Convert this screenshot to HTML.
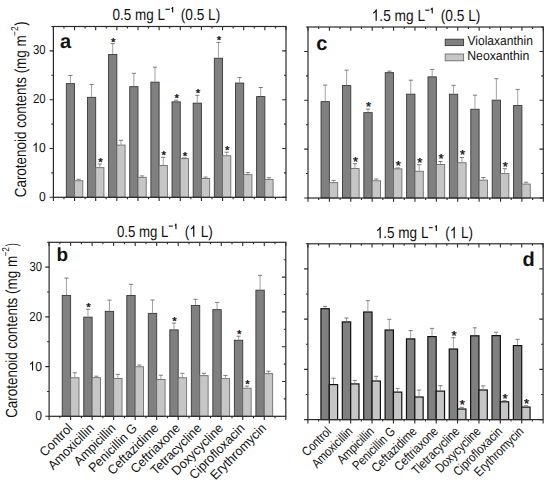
<!DOCTYPE html>
<html><head><meta charset="utf-8"><style>
html,body{margin:0;padding:0;background:#fff;}
svg{display:block;font-family:"Liberation Sans", sans-serif;text-rendering:geometricPrecision;}
text{fill:#111;}
</style></head><body>
<svg width="550" height="484" viewBox="0 0 550 484" shape-rendering="auto">
<rect x="66.3" y="83.65" width="8.25" height="113.65" fill="#808080" stroke="#383838" stroke-width="0.9"/>
<rect x="74.55" y="180.75" width="8.25" height="16.55" fill="#c6c6c6" stroke="#6e6e6e" stroke-width="0.9"/>
<rect x="87.44" y="97.35" width="8.25" height="99.95" fill="#808080" stroke="#383838" stroke-width="0.9"/>
<rect x="95.69" y="167.65" width="8.25" height="29.65" fill="#c6c6c6" stroke="#6e6e6e" stroke-width="0.9"/>
<rect x="108.59" y="54.45" width="8.25" height="142.85" fill="#808080" stroke="#383838" stroke-width="0.9"/>
<rect x="116.84" y="145.05" width="8.25" height="52.25" fill="#c6c6c6" stroke="#6e6e6e" stroke-width="0.9"/>
<rect x="129.74" y="86.65" width="8.25" height="110.65" fill="#808080" stroke="#383838" stroke-width="0.9"/>
<rect x="137.98" y="177.35" width="8.25" height="19.95" fill="#c6c6c6" stroke="#6e6e6e" stroke-width="0.9"/>
<rect x="150.88" y="82.15" width="8.25" height="115.15" fill="#808080" stroke="#383838" stroke-width="0.9"/>
<rect x="159.13" y="165.45" width="8.25" height="31.85" fill="#c6c6c6" stroke="#6e6e6e" stroke-width="0.9"/>
<rect x="172.03" y="101.85" width="8.25" height="95.45" fill="#808080" stroke="#383838" stroke-width="0.9"/>
<rect x="180.27" y="158.65" width="8.25" height="38.65" fill="#c6c6c6" stroke="#6e6e6e" stroke-width="0.9"/>
<rect x="193.17" y="103.15" width="8.25" height="94.15" fill="#808080" stroke="#383838" stroke-width="0.9"/>
<rect x="201.42" y="178.55" width="8.25" height="18.75" fill="#c6c6c6" stroke="#6e6e6e" stroke-width="0.9"/>
<rect x="214.32" y="58.25" width="8.25" height="139.05" fill="#808080" stroke="#383838" stroke-width="0.9"/>
<rect x="222.56" y="155.75" width="8.25" height="41.55" fill="#c6c6c6" stroke="#6e6e6e" stroke-width="0.9"/>
<rect x="235.46" y="83.05" width="8.25" height="114.25" fill="#808080" stroke="#383838" stroke-width="0.9"/>
<rect x="243.71" y="174.65" width="8.25" height="22.65" fill="#c6c6c6" stroke="#6e6e6e" stroke-width="0.9"/>
<rect x="256.61" y="96.55" width="8.25" height="100.75" fill="#808080" stroke="#383838" stroke-width="0.9"/>
<rect x="264.85" y="179.55" width="8.25" height="17.75" fill="#c6c6c6" stroke="#6e6e6e" stroke-width="0.9"/>
<path d="M70.42 83.2V75.5" stroke="#8a8a8a" stroke-width="0.8" fill="none"/>
<path d="M68.32 75.5H72.52" stroke="#707070" stroke-width="0.9" fill="none"/>
<path d="M78.67 180.3V179.3" stroke="#8a8a8a" stroke-width="0.8" fill="none"/>
<path d="M76.57 179.3H80.77" stroke="#707070" stroke-width="0.9" fill="none"/>
<path d="M91.57 96.9V84.5" stroke="#8a8a8a" stroke-width="0.8" fill="none"/>
<path d="M89.47 84.5H93.67" stroke="#707070" stroke-width="0.9" fill="none"/>
<path d="M99.81 167.2V164" stroke="#8a8a8a" stroke-width="0.8" fill="none"/>
<path d="M97.71 164H101.91" stroke="#707070" stroke-width="0.9" fill="none"/>
<text x="100.41" y="165.9" font-size="11.5" text-anchor="middle" fill="#111" stroke="#111" stroke-width="0.35">*</text>
<path d="M112.71 54V43.6" stroke="#8a8a8a" stroke-width="0.8" fill="none"/>
<path d="M110.61 43.6H114.81" stroke="#707070" stroke-width="0.9" fill="none"/>
<text x="113.31" y="45.5" font-size="11.5" text-anchor="middle" fill="#111" stroke="#111" stroke-width="0.35">*</text>
<path d="M120.96 144.6V140.3" stroke="#8a8a8a" stroke-width="0.8" fill="none"/>
<path d="M118.86 140.3H123.06" stroke="#707070" stroke-width="0.9" fill="none"/>
<path d="M133.86 86.2V73.3" stroke="#8a8a8a" stroke-width="0.8" fill="none"/>
<path d="M131.76 73.3H135.96" stroke="#707070" stroke-width="0.9" fill="none"/>
<path d="M142.11 176.9V175.9" stroke="#8a8a8a" stroke-width="0.8" fill="none"/>
<path d="M140.01 175.9H144.21" stroke="#707070" stroke-width="0.9" fill="none"/>
<path d="M155 81.7V67.2" stroke="#8a8a8a" stroke-width="0.8" fill="none"/>
<path d="M152.9 67.2H157.1" stroke="#707070" stroke-width="0.9" fill="none"/>
<path d="M163.25 165V157.3" stroke="#8a8a8a" stroke-width="0.8" fill="none"/>
<path d="M161.15 157.3H165.35" stroke="#707070" stroke-width="0.9" fill="none"/>
<text x="163.85" y="159.2" font-size="11.5" text-anchor="middle" fill="#111" stroke="#111" stroke-width="0.35">*</text>
<path d="M176.15 101.4V100.2" stroke="#8a8a8a" stroke-width="0.8" fill="none"/>
<path d="M174.05 100.2H178.25" stroke="#707070" stroke-width="0.9" fill="none"/>
<text x="176.75" y="102.1" font-size="11.5" text-anchor="middle" fill="#111" stroke="#111" stroke-width="0.35">*</text>
<path d="M182.3 157.9H186.5" stroke="#707070" stroke-width="0.9" fill="none"/>
<text x="185" y="159.8" font-size="11.5" text-anchor="middle" fill="#111" stroke="#111" stroke-width="0.35">*</text>
<path d="M197.29 102.7V95.3" stroke="#8a8a8a" stroke-width="0.8" fill="none"/>
<path d="M195.19 95.3H199.39" stroke="#707070" stroke-width="0.9" fill="none"/>
<text x="197.89" y="97.2" font-size="11.5" text-anchor="middle" fill="#111" stroke="#111" stroke-width="0.35">*</text>
<path d="M205.54 178.1V177.1" stroke="#8a8a8a" stroke-width="0.8" fill="none"/>
<path d="M203.44 177.1H207.64" stroke="#707070" stroke-width="0.9" fill="none"/>
<path d="M218.44 57.8V42.4" stroke="#8a8a8a" stroke-width="0.8" fill="none"/>
<path d="M216.34 42.4H220.54" stroke="#707070" stroke-width="0.9" fill="none"/>
<text x="219.04" y="44.3" font-size="11.5" text-anchor="middle" fill="#111" stroke="#111" stroke-width="0.35">*</text>
<path d="M226.69 155.3V152.2" stroke="#8a8a8a" stroke-width="0.8" fill="none"/>
<path d="M224.59 152.2H228.79" stroke="#707070" stroke-width="0.9" fill="none"/>
<text x="227.29" y="154.1" font-size="11.5" text-anchor="middle" fill="#111" stroke="#111" stroke-width="0.35">*</text>
<path d="M239.59 82.6V77.6" stroke="#8a8a8a" stroke-width="0.8" fill="none"/>
<path d="M237.49 77.6H241.69" stroke="#707070" stroke-width="0.9" fill="none"/>
<path d="M247.83 174.2V172.6" stroke="#8a8a8a" stroke-width="0.8" fill="none"/>
<path d="M245.73 172.6H249.93" stroke="#707070" stroke-width="0.9" fill="none"/>
<path d="M260.73 96.1V87.5" stroke="#8a8a8a" stroke-width="0.8" fill="none"/>
<path d="M258.63 87.5H262.83" stroke="#707070" stroke-width="0.9" fill="none"/>
<path d="M268.98 179.1V177.7" stroke="#8a8a8a" stroke-width="0.8" fill="none"/>
<path d="M266.88 177.7H271.08" stroke="#707070" stroke-width="0.9" fill="none"/>
<rect x="53.4" y="26.5" width="232.6" height="170.8" fill="none" stroke="#2a2a2a" stroke-width="1.2"/>
<path d="M53.4 197.3v3.8M53.4 26.5v3.8M63.97 197.3v2M63.97 26.5v2M74.55 197.3v3.8M74.55 26.5v3.8M85.12 197.3v2M85.12 26.5v2M95.69 197.3v3.8M95.69 26.5v3.8M106.26 197.3v2M106.26 26.5v2M116.84 197.3v3.8M116.84 26.5v3.8M127.41 197.3v2M127.41 26.5v2M137.98 197.3v3.8M137.98 26.5v3.8M148.55 197.3v2M148.55 26.5v2M159.13 197.3v3.8M159.13 26.5v3.8M169.7 197.3v2M169.7 26.5v2M180.27 197.3v3.8M180.27 26.5v3.8M190.85 197.3v2M190.85 26.5v2M201.42 197.3v3.8M201.42 26.5v3.8M211.99 197.3v2M211.99 26.5v2M222.56 197.3v3.8M222.56 26.5v3.8M233.14 197.3v2M233.14 26.5v2M243.71 197.3v3.8M243.71 26.5v3.8M254.28 197.3v2M254.28 26.5v2M264.85 197.3v3.8M264.85 26.5v3.8M275.43 197.3v2M275.43 26.5v2M286 197.3v3.8M286 26.5v3.8M53.4 197.3h-3.8M286 197.3h-3.8M53.4 172.9h-2M286 172.9h-2M53.4 148.5h-3.8M286 148.5h-3.8M53.4 124.1h-2M286 124.1h-2M53.4 99.7h-3.8M286 99.7h-3.8M53.4 75.3h-2M286 75.3h-2M53.4 50.9h-3.8M286 50.9h-3.8M53.4 26.5h-2M286 26.5h-2" stroke="#2a2a2a" stroke-width="1.1" fill="none"/>
<text x="38.93" y="200.7" font-size="13" textLength="6.75" lengthAdjust="spacingAndGlyphs">0</text>
<text x="32.18" y="151.9" font-size="13" textLength="13.5" lengthAdjust="spacingAndGlyphs"> 0</text><polygon points="35.58,151.9 36.7,151.9 36.7,142.59 35.98,142.59 35.64,143.22 35.09,143.84 34.3,144.54 33.5,145.04 33.5,146.15 34.18,145.84 34.91,145.37 35.58,144.81" fill="#111"/>
<text x="32.92" y="103.1" font-size="13" textLength="12.72" lengthAdjust="spacingAndGlyphs">20</text>
<text x="33.07" y="54.3" font-size="13" textLength="12.57" lengthAdjust="spacingAndGlyphs">30</text>
<rect x="321.05" y="101.65" width="8.34" height="96.35" fill="#808080" stroke="#383838" stroke-width="0.9"/>
<rect x="329.39" y="182.65" width="8.34" height="15.35" fill="#c6c6c6" stroke="#6e6e6e" stroke-width="0.9"/>
<rect x="342.44" y="85.55" width="8.34" height="112.45" fill="#808080" stroke="#383838" stroke-width="0.9"/>
<rect x="350.78" y="168.55" width="8.34" height="29.45" fill="#c6c6c6" stroke="#6e6e6e" stroke-width="0.9"/>
<rect x="363.83" y="112.65" width="8.34" height="85.35" fill="#808080" stroke="#383838" stroke-width="0.9"/>
<rect x="372.17" y="180.75" width="8.34" height="17.25" fill="#c6c6c6" stroke="#6e6e6e" stroke-width="0.9"/>
<rect x="385.22" y="72.65" width="8.34" height="125.35" fill="#808080" stroke="#383838" stroke-width="0.9"/>
<rect x="393.56" y="168.85" width="8.34" height="29.15" fill="#c6c6c6" stroke="#6e6e6e" stroke-width="0.9"/>
<rect x="406.61" y="94.15" width="8.34" height="103.85" fill="#808080" stroke="#383838" stroke-width="0.9"/>
<rect x="414.95" y="171.25" width="8.34" height="26.75" fill="#c6c6c6" stroke="#6e6e6e" stroke-width="0.9"/>
<rect x="428" y="76.85" width="8.34" height="121.15" fill="#808080" stroke="#383838" stroke-width="0.9"/>
<rect x="436.35" y="164.45" width="8.34" height="33.55" fill="#c6c6c6" stroke="#6e6e6e" stroke-width="0.9"/>
<rect x="449.39" y="94.25" width="8.34" height="103.75" fill="#808080" stroke="#383838" stroke-width="0.9"/>
<rect x="457.74" y="162.75" width="8.34" height="35.25" fill="#c6c6c6" stroke="#6e6e6e" stroke-width="0.9"/>
<rect x="470.78" y="109.25" width="8.34" height="88.75" fill="#808080" stroke="#383838" stroke-width="0.9"/>
<rect x="479.13" y="180.15" width="8.34" height="17.85" fill="#c6c6c6" stroke="#6e6e6e" stroke-width="0.9"/>
<rect x="492.18" y="100.15" width="8.34" height="97.85" fill="#808080" stroke="#383838" stroke-width="0.9"/>
<rect x="500.52" y="173.65" width="8.34" height="24.35" fill="#c6c6c6" stroke="#6e6e6e" stroke-width="0.9"/>
<rect x="513.57" y="105.55" width="8.34" height="92.45" fill="#808080" stroke="#383838" stroke-width="0.9"/>
<rect x="521.91" y="184.05" width="8.34" height="13.95" fill="#c6c6c6" stroke="#6e6e6e" stroke-width="0.9"/>
<path d="M325.22 101.2V85.1" stroke="#8a8a8a" stroke-width="0.8" fill="none"/>
<path d="M323.12 85.1H327.32" stroke="#707070" stroke-width="0.9" fill="none"/>
<path d="M333.56 182.2V180.4" stroke="#8a8a8a" stroke-width="0.8" fill="none"/>
<path d="M331.46 180.4H335.66" stroke="#707070" stroke-width="0.9" fill="none"/>
<path d="M346.61 85.1V70.2" stroke="#8a8a8a" stroke-width="0.8" fill="none"/>
<path d="M344.51 70.2H348.71" stroke="#707070" stroke-width="0.9" fill="none"/>
<path d="M354.95 168.1V163.7" stroke="#8a8a8a" stroke-width="0.8" fill="none"/>
<path d="M352.85 163.7H357.05" stroke="#707070" stroke-width="0.9" fill="none"/>
<text x="355.55" y="165.5" font-size="13" text-anchor="middle" fill="#111" stroke="#111" stroke-width="0.35">*</text>
<path d="M368 112.2V109.1" stroke="#8a8a8a" stroke-width="0.8" fill="none"/>
<path d="M365.9 109.1H370.1" stroke="#707070" stroke-width="0.9" fill="none"/>
<text x="368.6" y="110.9" font-size="13" text-anchor="middle" fill="#111" stroke="#111" stroke-width="0.35">*</text>
<path d="M376.34 180.3V179" stroke="#8a8a8a" stroke-width="0.8" fill="none"/>
<path d="M374.24 179H378.44" stroke="#707070" stroke-width="0.9" fill="none"/>
<path d="M389.39 72.2V71.1" stroke="#8a8a8a" stroke-width="0.8" fill="none"/>
<path d="M387.29 71.1H391.49" stroke="#707070" stroke-width="0.9" fill="none"/>
<path d="M395.63 167.9H399.83" stroke="#707070" stroke-width="0.9" fill="none"/>
<text x="398.33" y="169.7" font-size="13" text-anchor="middle" fill="#111" stroke="#111" stroke-width="0.35">*</text>
<path d="M410.78 93.7V80.2" stroke="#8a8a8a" stroke-width="0.8" fill="none"/>
<path d="M408.68 80.2H412.88" stroke="#707070" stroke-width="0.9" fill="none"/>
<path d="M419.13 170.8V164.7" stroke="#8a8a8a" stroke-width="0.8" fill="none"/>
<path d="M417.03 164.7H421.23" stroke="#707070" stroke-width="0.9" fill="none"/>
<text x="419.73" y="166.5" font-size="13" text-anchor="middle" fill="#111" stroke="#111" stroke-width="0.35">*</text>
<path d="M432.17 76.4V69.4" stroke="#8a8a8a" stroke-width="0.8" fill="none"/>
<path d="M430.07 69.4H434.27" stroke="#707070" stroke-width="0.9" fill="none"/>
<path d="M440.52 164V161.5" stroke="#8a8a8a" stroke-width="0.8" fill="none"/>
<path d="M438.42 161.5H442.62" stroke="#707070" stroke-width="0.9" fill="none"/>
<text x="441.12" y="163.3" font-size="13" text-anchor="middle" fill="#111" stroke="#111" stroke-width="0.35">*</text>
<path d="M453.57 93.8V85.3" stroke="#8a8a8a" stroke-width="0.8" fill="none"/>
<path d="M451.47 85.3H455.67" stroke="#707070" stroke-width="0.9" fill="none"/>
<path d="M461.91 162.3V157.5" stroke="#8a8a8a" stroke-width="0.8" fill="none"/>
<path d="M459.81 157.5H464.01" stroke="#707070" stroke-width="0.9" fill="none"/>
<text x="462.51" y="159.3" font-size="13" text-anchor="middle" fill="#111" stroke="#111" stroke-width="0.35">*</text>
<path d="M474.96 108.8V95.2" stroke="#8a8a8a" stroke-width="0.8" fill="none"/>
<path d="M472.86 95.2H477.06" stroke="#707070" stroke-width="0.9" fill="none"/>
<path d="M483.3 179.7V177.5" stroke="#8a8a8a" stroke-width="0.8" fill="none"/>
<path d="M481.2 177.5H485.4" stroke="#707070" stroke-width="0.9" fill="none"/>
<path d="M496.35 99.7V78.7" stroke="#8a8a8a" stroke-width="0.8" fill="none"/>
<path d="M494.25 78.7H498.45" stroke="#707070" stroke-width="0.9" fill="none"/>
<path d="M504.69 173.2V168.7" stroke="#8a8a8a" stroke-width="0.8" fill="none"/>
<path d="M502.59 168.7H506.79" stroke="#707070" stroke-width="0.9" fill="none"/>
<text x="505.29" y="170.5" font-size="13" text-anchor="middle" fill="#111" stroke="#111" stroke-width="0.35">*</text>
<path d="M517.74 105.1V89.4" stroke="#8a8a8a" stroke-width="0.8" fill="none"/>
<path d="M515.64 89.4H519.84" stroke="#707070" stroke-width="0.9" fill="none"/>
<path d="M526.08 183.6V182.2" stroke="#8a8a8a" stroke-width="0.8" fill="none"/>
<path d="M523.98 182.2H528.18" stroke="#707070" stroke-width="0.9" fill="none"/>
<rect x="308" y="27" width="235.3" height="171" fill="none" stroke="#2a2a2a" stroke-width="1.2"/>
<path d="M308 198v3.8M308 27v3.8M318.7 198v2M318.7 27v2M329.39 198v3.8M329.39 27v3.8M340.09 198v2M340.09 27v2M350.78 198v3.8M350.78 27v3.8M361.48 198v2M361.48 27v2M372.17 198v3.8M372.17 27v3.8M382.87 198v2M382.87 27v2M393.56 198v3.8M393.56 27v3.8M404.26 198v2M404.26 27v2M414.95 198v3.8M414.95 27v3.8M425.65 198v2M425.65 27v2M436.35 198v3.8M436.35 27v3.8M447.04 198v2M447.04 27v2M457.74 198v3.8M457.74 27v3.8M468.43 198v2M468.43 27v2M479.13 198v3.8M479.13 27v3.8M489.82 198v2M489.82 27v2M500.52 198v3.8M500.52 27v3.8M511.21 198v2M511.21 27v2M521.91 198v3.8M521.91 27v3.8M532.6 198v2M532.6 27v2M543.3 198v3.8M543.3 27v3.8M308 198h-3.8M543.3 198h-3.8M308 173.57h-2M543.3 173.57h-2M308 149.14h-3.8M543.3 149.14h-3.8M308 124.71h-2M543.3 124.71h-2M308 100.29h-3.8M543.3 100.29h-3.8M308 75.86h-2M543.3 75.86h-2M308 51.43h-3.8M543.3 51.43h-3.8M308 27h-2M543.3 27h-2" stroke="#2a2a2a" stroke-width="1.1" fill="none"/>
<rect x="62.23" y="295.45" width="8.39" height="120.85" fill="#808080" stroke="#383838" stroke-width="0.9"/>
<rect x="70.62" y="377.75" width="8.39" height="38.55" fill="#c6c6c6" stroke="#6e6e6e" stroke-width="0.9"/>
<rect x="83.74" y="317.15" width="8.39" height="99.15" fill="#808080" stroke="#383838" stroke-width="0.9"/>
<rect x="92.14" y="377.65" width="8.39" height="38.65" fill="#c6c6c6" stroke="#6e6e6e" stroke-width="0.9"/>
<rect x="105.26" y="311.35" width="8.39" height="104.95" fill="#808080" stroke="#383838" stroke-width="0.9"/>
<rect x="113.65" y="378.55" width="8.39" height="37.75" fill="#c6c6c6" stroke="#6e6e6e" stroke-width="0.9"/>
<rect x="126.78" y="295.45" width="8.39" height="120.85" fill="#808080" stroke="#383838" stroke-width="0.9"/>
<rect x="135.17" y="366.75" width="8.39" height="49.55" fill="#c6c6c6" stroke="#6e6e6e" stroke-width="0.9"/>
<rect x="148.3" y="313.35" width="8.39" height="102.95" fill="#808080" stroke="#383838" stroke-width="0.9"/>
<rect x="156.69" y="379.55" width="8.39" height="36.75" fill="#c6c6c6" stroke="#6e6e6e" stroke-width="0.9"/>
<rect x="169.82" y="329.85" width="8.39" height="86.45" fill="#808080" stroke="#383838" stroke-width="0.9"/>
<rect x="178.21" y="377.75" width="8.39" height="38.55" fill="#c6c6c6" stroke="#6e6e6e" stroke-width="0.9"/>
<rect x="191.34" y="305.55" width="8.39" height="110.75" fill="#808080" stroke="#383838" stroke-width="0.9"/>
<rect x="199.73" y="375.65" width="8.39" height="40.65" fill="#c6c6c6" stroke="#6e6e6e" stroke-width="0.9"/>
<rect x="212.85" y="309.65" width="8.39" height="106.65" fill="#808080" stroke="#383838" stroke-width="0.9"/>
<rect x="221.25" y="378.65" width="8.39" height="37.65" fill="#c6c6c6" stroke="#6e6e6e" stroke-width="0.9"/>
<rect x="234.37" y="340.25" width="8.39" height="76.05" fill="#808080" stroke="#383838" stroke-width="0.9"/>
<rect x="242.76" y="388.25" width="8.39" height="28.05" fill="#c6c6c6" stroke="#6e6e6e" stroke-width="0.9"/>
<rect x="255.89" y="290.15" width="8.39" height="126.15" fill="#808080" stroke="#383838" stroke-width="0.9"/>
<rect x="264.28" y="373.65" width="8.39" height="42.65" fill="#c6c6c6" stroke="#6e6e6e" stroke-width="0.9"/>
<path d="M66.42 295V278.1" stroke="#8a8a8a" stroke-width="0.8" fill="none"/>
<path d="M64.32 278.1H68.52" stroke="#707070" stroke-width="0.9" fill="none"/>
<path d="M74.81 377.3V372.8" stroke="#8a8a8a" stroke-width="0.8" fill="none"/>
<path d="M72.71 372.8H76.91" stroke="#707070" stroke-width="0.9" fill="none"/>
<path d="M87.94 316.7V309.2" stroke="#8a8a8a" stroke-width="0.8" fill="none"/>
<path d="M85.84 309.2H90.04" stroke="#707070" stroke-width="0.9" fill="none"/>
<text x="88.54" y="311.1" font-size="11.5" text-anchor="middle" fill="#111" stroke="#111" stroke-width="0.35">*</text>
<path d="M96.33 377.2V376.2" stroke="#8a8a8a" stroke-width="0.8" fill="none"/>
<path d="M94.23 376.2H98.43" stroke="#707070" stroke-width="0.9" fill="none"/>
<path d="M109.46 310.9V300.1" stroke="#8a8a8a" stroke-width="0.8" fill="none"/>
<path d="M107.36 300.1H111.56" stroke="#707070" stroke-width="0.9" fill="none"/>
<path d="M117.85 378.1V374.3" stroke="#8a8a8a" stroke-width="0.8" fill="none"/>
<path d="M115.75 374.3H119.95" stroke="#707070" stroke-width="0.9" fill="none"/>
<path d="M130.98 295V284.3" stroke="#8a8a8a" stroke-width="0.8" fill="none"/>
<path d="M128.88 284.3H133.08" stroke="#707070" stroke-width="0.9" fill="none"/>
<path d="M139.37 366.3V365" stroke="#8a8a8a" stroke-width="0.8" fill="none"/>
<path d="M137.27 365H141.47" stroke="#707070" stroke-width="0.9" fill="none"/>
<path d="M152.49 312.9V300" stroke="#8a8a8a" stroke-width="0.8" fill="none"/>
<path d="M150.39 300H154.59" stroke="#707070" stroke-width="0.9" fill="none"/>
<path d="M160.89 379.1V375.2" stroke="#8a8a8a" stroke-width="0.8" fill="none"/>
<path d="M158.79 375.2H162.99" stroke="#707070" stroke-width="0.9" fill="none"/>
<path d="M174.01 329.4V323.1" stroke="#8a8a8a" stroke-width="0.8" fill="none"/>
<path d="M171.91 323.1H176.11" stroke="#707070" stroke-width="0.9" fill="none"/>
<text x="174.61" y="325" font-size="11.5" text-anchor="middle" fill="#111" stroke="#111" stroke-width="0.35">*</text>
<path d="M182.41 377.3V373.3" stroke="#8a8a8a" stroke-width="0.8" fill="none"/>
<path d="M180.31 373.3H184.51" stroke="#707070" stroke-width="0.9" fill="none"/>
<path d="M195.53 305.1V299.3" stroke="#8a8a8a" stroke-width="0.8" fill="none"/>
<path d="M193.43 299.3H197.63" stroke="#707070" stroke-width="0.9" fill="none"/>
<path d="M203.92 375.2V373.3" stroke="#8a8a8a" stroke-width="0.8" fill="none"/>
<path d="M201.82 373.3H206.02" stroke="#707070" stroke-width="0.9" fill="none"/>
<path d="M217.05 309.2V302.4" stroke="#8a8a8a" stroke-width="0.8" fill="none"/>
<path d="M214.95 302.4H219.15" stroke="#707070" stroke-width="0.9" fill="none"/>
<path d="M225.44 378.2V375.4" stroke="#8a8a8a" stroke-width="0.8" fill="none"/>
<path d="M223.34 375.4H227.54" stroke="#707070" stroke-width="0.9" fill="none"/>
<path d="M238.57 339.8V336.2" stroke="#8a8a8a" stroke-width="0.8" fill="none"/>
<path d="M236.47 336.2H240.67" stroke="#707070" stroke-width="0.9" fill="none"/>
<text x="239.17" y="338.1" font-size="11.5" text-anchor="middle" fill="#111" stroke="#111" stroke-width="0.35">*</text>
<path d="M246.96 387.8V386.1" stroke="#8a8a8a" stroke-width="0.8" fill="none"/>
<path d="M244.86 386.1H249.06" stroke="#707070" stroke-width="0.9" fill="none"/>
<text x="247.56" y="388" font-size="11.5" text-anchor="middle" fill="#111" stroke="#111" stroke-width="0.35">*</text>
<path d="M260.09 289.7V275.3" stroke="#8a8a8a" stroke-width="0.8" fill="none"/>
<path d="M257.99 275.3H262.19" stroke="#707070" stroke-width="0.9" fill="none"/>
<path d="M268.48 373.2V371.2" stroke="#8a8a8a" stroke-width="0.8" fill="none"/>
<path d="M266.38 371.2H270.58" stroke="#707070" stroke-width="0.9" fill="none"/>
<rect x="49.1" y="242.3" width="236.7" height="174" fill="none" stroke="#2a2a2a" stroke-width="1.2"/>
<path d="M49.1 416.3v3.8M49.1 242.3v3.8M59.86 416.3v2M59.86 242.3v2M70.62 416.3v3.8M70.62 242.3v3.8M81.38 416.3v2M81.38 242.3v2M92.14 416.3v3.8M92.14 242.3v3.8M102.9 416.3v2M102.9 242.3v2M113.65 416.3v3.8M113.65 242.3v3.8M124.41 416.3v2M124.41 242.3v2M135.17 416.3v3.8M135.17 242.3v3.8M145.93 416.3v2M145.93 242.3v2M156.69 416.3v3.8M156.69 242.3v3.8M167.45 416.3v2M167.45 242.3v2M178.21 416.3v3.8M178.21 242.3v3.8M188.97 416.3v2M188.97 242.3v2M199.73 416.3v3.8M199.73 242.3v3.8M210.49 416.3v2M210.49 242.3v2M221.25 416.3v3.8M221.25 242.3v3.8M232 416.3v2M232 242.3v2M242.76 416.3v3.8M242.76 242.3v3.8M253.52 416.3v2M253.52 242.3v2M264.28 416.3v3.8M264.28 242.3v3.8M275.04 416.3v2M275.04 242.3v2M285.8 416.3v3.8M285.8 242.3v3.8M49.1 416.3h-3.8M49.1 391.44h-2M49.1 366.59h-3.8M49.1 341.73h-2M49.1 316.87h-3.8M49.1 292.01h-2M49.1 267.16h-3.8M49.1 242.3h-2M285.8 398.9h-2M285.8 381.5h-3.8M285.8 364.1h-2M285.8 346.7h-3.8M285.8 329.3h-2M285.8 311.9h-3.8M285.8 294.5h-2M285.8 277.1h-3.8M285.8 259.7h-2" stroke="#2a2a2a" stroke-width="1.1" fill="none"/>
<text x="35.33" y="420.3" font-size="13" textLength="6.75" lengthAdjust="spacingAndGlyphs">0</text>
<text x="28.58" y="370.59" font-size="13" textLength="13.5" lengthAdjust="spacingAndGlyphs"> 0</text><polygon points="31.98,370.59 33.1,370.59 33.1,361.28 32.38,361.28 32.04,361.9 31.49,362.53 30.7,363.23 29.9,363.72 29.9,364.84 30.58,364.53 31.31,364.06 31.98,363.5" fill="#111"/>
<text x="29.32" y="320.87" font-size="13" textLength="12.72" lengthAdjust="spacingAndGlyphs">20</text>
<text x="29.47" y="271.16" font-size="13" textLength="12.57" lengthAdjust="spacingAndGlyphs">30</text>
<text transform="translate(73.32 428.9) rotate(-45) scale(0.96 1)" font-size="13" text-anchor="end">Control</text>
<text transform="translate(94.84 428.9) rotate(-45) scale(0.96 1)" font-size="13" text-anchor="end">Amoxicillin</text>
<text transform="translate(116.35 428.9) rotate(-45) scale(0.96 1)" font-size="13" text-anchor="end">Ampicillin</text>
<text transform="translate(137.87 428.9) rotate(-45) scale(0.96 1)" font-size="13" text-anchor="end">Penicillin G</text>
<text transform="translate(159.39 428.9) rotate(-45) scale(0.96 1)" font-size="13" text-anchor="end">Ceftazidime</text>
<text transform="translate(180.91 428.9) rotate(-45) scale(0.96 1)" font-size="13" text-anchor="end">Ceftriaxone</text>
<text transform="translate(202.43 428.9) rotate(-45) scale(0.96 1)" font-size="13" text-anchor="end">Tetracycline</text>
<text transform="translate(223.95 428.9) rotate(-45) scale(0.96 1)" font-size="13" text-anchor="end">Doxycycline</text>
<text transform="translate(245.46 428.9) rotate(-45) scale(0.96 1)" font-size="13" text-anchor="end">Ciprofloxacin</text>
<text transform="translate(266.98 428.9) rotate(-45) scale(0.96 1)" font-size="13" text-anchor="end">Erythromycin</text>
<rect x="320.94" y="308.7" width="8.34" height="110.9" fill="#808080" stroke="#111111" stroke-width="1.2"/>
<rect x="329.28" y="384.6" width="8.34" height="35" fill="#c6c6c6" stroke="#111111" stroke-width="1.2"/>
<rect x="342.32" y="321.9" width="8.34" height="97.7" fill="#808080" stroke="#111111" stroke-width="1.2"/>
<rect x="350.66" y="383.9" width="8.34" height="35.7" fill="#c6c6c6" stroke="#111111" stroke-width="1.2"/>
<rect x="363.71" y="312" width="8.34" height="107.6" fill="#808080" stroke="#111111" stroke-width="1.2"/>
<rect x="372.05" y="381" width="8.34" height="38.6" fill="#c6c6c6" stroke="#111111" stroke-width="1.2"/>
<rect x="385.09" y="330" width="8.34" height="89.6" fill="#808080" stroke="#111111" stroke-width="1.2"/>
<rect x="393.43" y="392.1" width="8.34" height="27.5" fill="#c6c6c6" stroke="#111111" stroke-width="1.2"/>
<rect x="406.47" y="338.9" width="8.34" height="80.7" fill="#808080" stroke="#111111" stroke-width="1.2"/>
<rect x="414.81" y="397" width="8.34" height="22.6" fill="#c6c6c6" stroke="#111111" stroke-width="1.2"/>
<rect x="427.85" y="336.6" width="8.34" height="83" fill="#808080" stroke="#111111" stroke-width="1.2"/>
<rect x="436.19" y="391.1" width="8.34" height="28.5" fill="#c6c6c6" stroke="#111111" stroke-width="1.2"/>
<rect x="449.23" y="349" width="8.34" height="70.6" fill="#808080" stroke="#111111" stroke-width="1.2"/>
<rect x="457.57" y="409" width="8.34" height="10.6" fill="#c6c6c6" stroke="#111111" stroke-width="1.2"/>
<rect x="470.62" y="335.8" width="8.34" height="83.8" fill="#808080" stroke="#111111" stroke-width="1.2"/>
<rect x="478.95" y="390" width="8.34" height="29.6" fill="#c6c6c6" stroke="#111111" stroke-width="1.2"/>
<rect x="492" y="335.6" width="8.34" height="84" fill="#808080" stroke="#111111" stroke-width="1.2"/>
<rect x="500.34" y="401.8" width="8.34" height="17.8" fill="#c6c6c6" stroke="#111111" stroke-width="1.2"/>
<rect x="513.38" y="345.6" width="8.34" height="74" fill="#808080" stroke="#111111" stroke-width="1.2"/>
<rect x="521.72" y="407.1" width="8.34" height="12.5" fill="#c6c6c6" stroke="#111111" stroke-width="1.2"/>
<path d="M325.11 308.1V306.4" stroke="#8a8a8a" stroke-width="0.8" fill="none"/>
<path d="M323.01 306.4H327.21" stroke="#707070" stroke-width="0.9" fill="none"/>
<path d="M333.45 384V378.2" stroke="#8a8a8a" stroke-width="0.8" fill="none"/>
<path d="M331.35 378.2H335.55" stroke="#707070" stroke-width="0.9" fill="none"/>
<path d="M346.49 321.3V318" stroke="#8a8a8a" stroke-width="0.8" fill="none"/>
<path d="M344.39 318H348.59" stroke="#707070" stroke-width="0.9" fill="none"/>
<path d="M354.83 383.3V380.4" stroke="#8a8a8a" stroke-width="0.8" fill="none"/>
<path d="M352.73 380.4H356.93" stroke="#707070" stroke-width="0.9" fill="none"/>
<path d="M367.88 311.4V300.7" stroke="#8a8a8a" stroke-width="0.8" fill="none"/>
<path d="M365.78 300.7H369.98" stroke="#707070" stroke-width="0.9" fill="none"/>
<path d="M376.21 380.4V376.3" stroke="#8a8a8a" stroke-width="0.8" fill="none"/>
<path d="M374.11 376.3H378.31" stroke="#707070" stroke-width="0.9" fill="none"/>
<path d="M389.26 329.4V319.3" stroke="#8a8a8a" stroke-width="0.8" fill="none"/>
<path d="M387.16 319.3H391.36" stroke="#707070" stroke-width="0.9" fill="none"/>
<path d="M397.6 391.5V388.4" stroke="#8a8a8a" stroke-width="0.8" fill="none"/>
<path d="M395.5 388.4H399.7" stroke="#707070" stroke-width="0.9" fill="none"/>
<path d="M410.64 338.3V330.6" stroke="#8a8a8a" stroke-width="0.8" fill="none"/>
<path d="M408.54 330.6H412.74" stroke="#707070" stroke-width="0.9" fill="none"/>
<path d="M418.98 396.4V390.1" stroke="#8a8a8a" stroke-width="0.8" fill="none"/>
<path d="M416.88 390.1H421.08" stroke="#707070" stroke-width="0.9" fill="none"/>
<path d="M432.02 336V328.4" stroke="#8a8a8a" stroke-width="0.8" fill="none"/>
<path d="M429.92 328.4H434.12" stroke="#707070" stroke-width="0.9" fill="none"/>
<path d="M440.36 390.5V385.7" stroke="#8a8a8a" stroke-width="0.8" fill="none"/>
<path d="M438.26 385.7H442.46" stroke="#707070" stroke-width="0.9" fill="none"/>
<path d="M453.4 348.4V337.7" stroke="#8a8a8a" stroke-width="0.8" fill="none"/>
<path d="M451.3 337.7H455.5" stroke="#707070" stroke-width="0.9" fill="none"/>
<text x="454" y="339.5" font-size="13" text-anchor="middle" fill="#111" stroke="#111" stroke-width="0.35">*</text>
<path d="M461.74 408.4V407.3" stroke="#8a8a8a" stroke-width="0.8" fill="none"/>
<path d="M459.64 407.3H463.84" stroke="#707070" stroke-width="0.9" fill="none"/>
<text x="462.34" y="409.1" font-size="13" text-anchor="middle" fill="#111" stroke="#111" stroke-width="0.35">*</text>
<path d="M474.79 335.2V327.8" stroke="#8a8a8a" stroke-width="0.8" fill="none"/>
<path d="M472.69 327.8H476.89" stroke="#707070" stroke-width="0.9" fill="none"/>
<path d="M483.12 389.4V385.9" stroke="#8a8a8a" stroke-width="0.8" fill="none"/>
<path d="M481.02 385.9H485.22" stroke="#707070" stroke-width="0.9" fill="none"/>
<path d="M496.17 335V332.2" stroke="#8a8a8a" stroke-width="0.8" fill="none"/>
<path d="M494.07 332.2H498.27" stroke="#707070" stroke-width="0.9" fill="none"/>
<path d="M502.41 400.7H506.61" stroke="#707070" stroke-width="0.9" fill="none"/>
<text x="505.11" y="402.5" font-size="13" text-anchor="middle" fill="#111" stroke="#111" stroke-width="0.35">*</text>
<path d="M517.55 345V339.3" stroke="#8a8a8a" stroke-width="0.8" fill="none"/>
<path d="M515.45 339.3H519.65" stroke="#707070" stroke-width="0.9" fill="none"/>
<path d="M523.79 405.8H527.99" stroke="#707070" stroke-width="0.9" fill="none"/>
<text x="526.49" y="407.6" font-size="13" text-anchor="middle" fill="#111" stroke="#111" stroke-width="0.35">*</text>
<rect x="307.9" y="243.8" width="235.2" height="175.8" fill="none" stroke="#2a2a2a" stroke-width="1.2"/>
<path d="M307.9 419.6v3.8M307.9 243.8v3.8M318.59 419.6v2M318.59 243.8v2M329.28 419.6v3.8M329.28 243.8v3.8M339.97 419.6v2M339.97 243.8v2M350.66 419.6v3.8M350.66 243.8v3.8M361.35 419.6v2M361.35 243.8v2M372.05 419.6v3.8M372.05 243.8v3.8M382.74 419.6v2M382.74 243.8v2M393.43 419.6v3.8M393.43 243.8v3.8M404.12 419.6v2M404.12 243.8v2M414.81 419.6v3.8M414.81 243.8v3.8M425.5 419.6v2M425.5 243.8v2M436.19 419.6v3.8M436.19 243.8v3.8M446.88 419.6v2M446.88 243.8v2M457.57 419.6v3.8M457.57 243.8v3.8M468.26 419.6v2M468.26 243.8v2M478.95 419.6v3.8M478.95 243.8v3.8M489.65 419.6v2M489.65 243.8v2M500.34 419.6v3.8M500.34 243.8v3.8M511.03 419.6v2M511.03 243.8v2M521.72 419.6v3.8M521.72 243.8v3.8M532.41 419.6v2M532.41 243.8v2M543.1 419.6v3.8M543.1 243.8v3.8M307.9 419.6h-3.8M543.1 419.6h-3.8M307.9 394.49h-2M543.1 394.49h-2M307.9 369.37h-3.8M543.1 369.37h-3.8M307.9 344.26h-2M543.1 344.26h-2M307.9 319.14h-3.8M543.1 319.14h-3.8M307.9 294.03h-2M543.1 294.03h-2M307.9 268.91h-3.8M543.1 268.91h-3.8M307.9 243.8h-2M543.1 243.8h-2" stroke="#2a2a2a" stroke-width="1.1" fill="none"/>
<text transform="translate(331.98 432.2) rotate(-45) scale(0.84 1)" font-size="13" text-anchor="end">Control</text>
<text transform="translate(353.36 432.2) rotate(-45) scale(0.84 1)" font-size="13" text-anchor="end">Amoxicillin</text>
<text transform="translate(374.75 432.2) rotate(-45) scale(0.84 1)" font-size="13" text-anchor="end">Ampicillin</text>
<text transform="translate(396.13 432.2) rotate(-45) scale(0.84 1)" font-size="13" text-anchor="end">Penicillin G</text>
<text transform="translate(417.51 432.2) rotate(-45) scale(0.84 1)" font-size="13" text-anchor="end">Ceftazidime</text>
<text transform="translate(438.89 432.2) rotate(-45) scale(0.84 1)" font-size="13" text-anchor="end">Ceftriaxone</text>
<text transform="translate(460.27 432.2) rotate(-45) scale(0.84 1)" font-size="13" text-anchor="end">Tletracycline</text>
<text transform="translate(481.65 432.2) rotate(-45) scale(0.84 1)" font-size="13" text-anchor="end">Doxycycline</text>
<text transform="translate(503.04 432.2) rotate(-45) scale(0.84 1)" font-size="13" text-anchor="end">Ciprofloxacin</text>
<text transform="translate(524.42 432.2) rotate(-45) scale(0.84 1)" font-size="13" text-anchor="end">Erythromycin</text>
<text x="112.57" y="19.9" font-size="16" textLength="52.37" lengthAdjust="spacingAndGlyphs">0.5 mg L</text>
<rect x="165.4" y="8.75" width="4.5" height="1.1" fill="#111"/>
<path d="M172.65 6.9V12.5M172.95 7.1L171.6 8.8" stroke="#111" stroke-width="1.15" fill="none"/>
<text x="180.75" y="19.9" font-size="16" textLength="39.49" lengthAdjust="spacingAndGlyphs">(0.5 L)</text>
<text x="371.71" y="20.8" font-size="16" textLength="53.35" lengthAdjust="spacingAndGlyphs"> .5 mg L</text><polygon points="375.55,20.8 376.81,20.8 376.81,9.34 376,9.34 375.61,10.11 375,10.88 374.1,11.74 373.2,12.35 373.2,13.73 373.97,13.34 374.79,12.77 375.55,12.08" fill="#111"/>
<rect x="425.3" y="9.65" width="4.1" height="1.1" fill="#111"/>
<path d="M432.25 7.8V13.4M432.55 8L430.7 9.7" stroke="#111" stroke-width="1.15" fill="none"/>
<text x="440.75" y="20.8" font-size="16" textLength="39.7" lengthAdjust="spacingAndGlyphs">(0.5 L)</text>
<text x="116.88" y="236.7" font-size="16" textLength="51.46" lengthAdjust="spacingAndGlyphs">0.5 mg L</text>
<rect x="168.7" y="225.55" width="4.1" height="1.1" fill="#111"/>
<path d="M175.95 223.7V229.3M176.25 223.9L174.9 225.6" stroke="#111" stroke-width="1.15" fill="none"/>
<text x="184.76" y="236.7" font-size="16" textLength="27.99" lengthAdjust="spacingAndGlyphs">(  L)</text><polygon points="193.11,236.7 194.36,236.7 194.36,225.24 193.55,225.24 193.17,226.01 192.56,226.78 191.67,227.64 190.77,228.25 190.77,229.63 191.53,229.24 192.35,228.67 193.11,227.98" fill="#111"/>
<text x="375.72" y="238.3" font-size="16" textLength="52.73" lengthAdjust="spacingAndGlyphs"> .5 mg L</text><polygon points="379.52,238.3 380.77,238.3 380.77,226.84 379.96,226.84 379.58,227.61 378.98,228.38 378.09,229.24 377.2,229.85 377.2,231.23 377.96,230.84 378.77,230.27 379.52,229.58" fill="#111"/>
<rect x="428.8" y="227.15" width="3.9" height="1.1" fill="#111"/>
<path d="M436.35 225.3V230.9M436.65 225.5L435.3 227.2" stroke="#111" stroke-width="1.15" fill="none"/>
<text x="445.37" y="238.3" font-size="16" textLength="27.56" lengthAdjust="spacingAndGlyphs">(  L)</text><polygon points="453.59,238.3 454.83,238.3 454.83,226.84 454.03,226.84 453.65,227.61 453.05,228.38 452.18,229.24 451.29,229.85 451.29,231.23 452.04,230.84 452.85,230.27 453.59,229.58" fill="#111"/>
<text x="60" y="47.8" font-size="20" font-weight="bold">a</text>
<text x="316.3" y="49.6" font-size="20" font-weight="bold">c</text>
<text x="56.6" y="260.6" font-size="19" font-weight="bold">b</text>
<text x="522.6" y="266.3" font-size="20" font-weight="bold">d</text>
<rect x="445.2" y="39.2" width="18.4" height="6.4" fill="#808080" stroke="#383838" stroke-width="0.9"/>
<rect x="445.2" y="54" width="18.4" height="6.8" fill="#c6c6c6" stroke="#6e6e6e" stroke-width="0.9"/>
<text x="467.45" y="44.7" font-size="13" textLength="65.43" lengthAdjust="spacingAndGlyphs">Violaxanthin</text>
<text x="467.19" y="59.8" font-size="13" textLength="62.1" lengthAdjust="spacingAndGlyphs">Neoxanthin</text>
<g transform="translate(25.5 197) rotate(-90)"><text x="-0.28" y="0" font-size="16" textLength="161.97" lengthAdjust="spacingAndGlyphs">Carotenoid contents (mg m</text><text x="161.09" y="-7.5" font-size="10" textLength="9.42" lengthAdjust="spacingAndGlyphs">−2</text><text x="171.32" y="0" font-size="16" textLength="4.27" lengthAdjust="spacingAndGlyphs">)</text></g>
<g transform="translate(16.9 417.6) rotate(-90)"><text x="-0.28" y="0" font-size="16" textLength="161.97" lengthAdjust="spacingAndGlyphs">Carotenoid contents (mg m</text><text x="161.09" y="-7.5" font-size="10" textLength="9.42" lengthAdjust="spacingAndGlyphs">−2</text><text x="171.35" y="0" font-size="16" textLength="3.01" lengthAdjust="spacingAndGlyphs">)</text></g>
</svg>
</body></html>
